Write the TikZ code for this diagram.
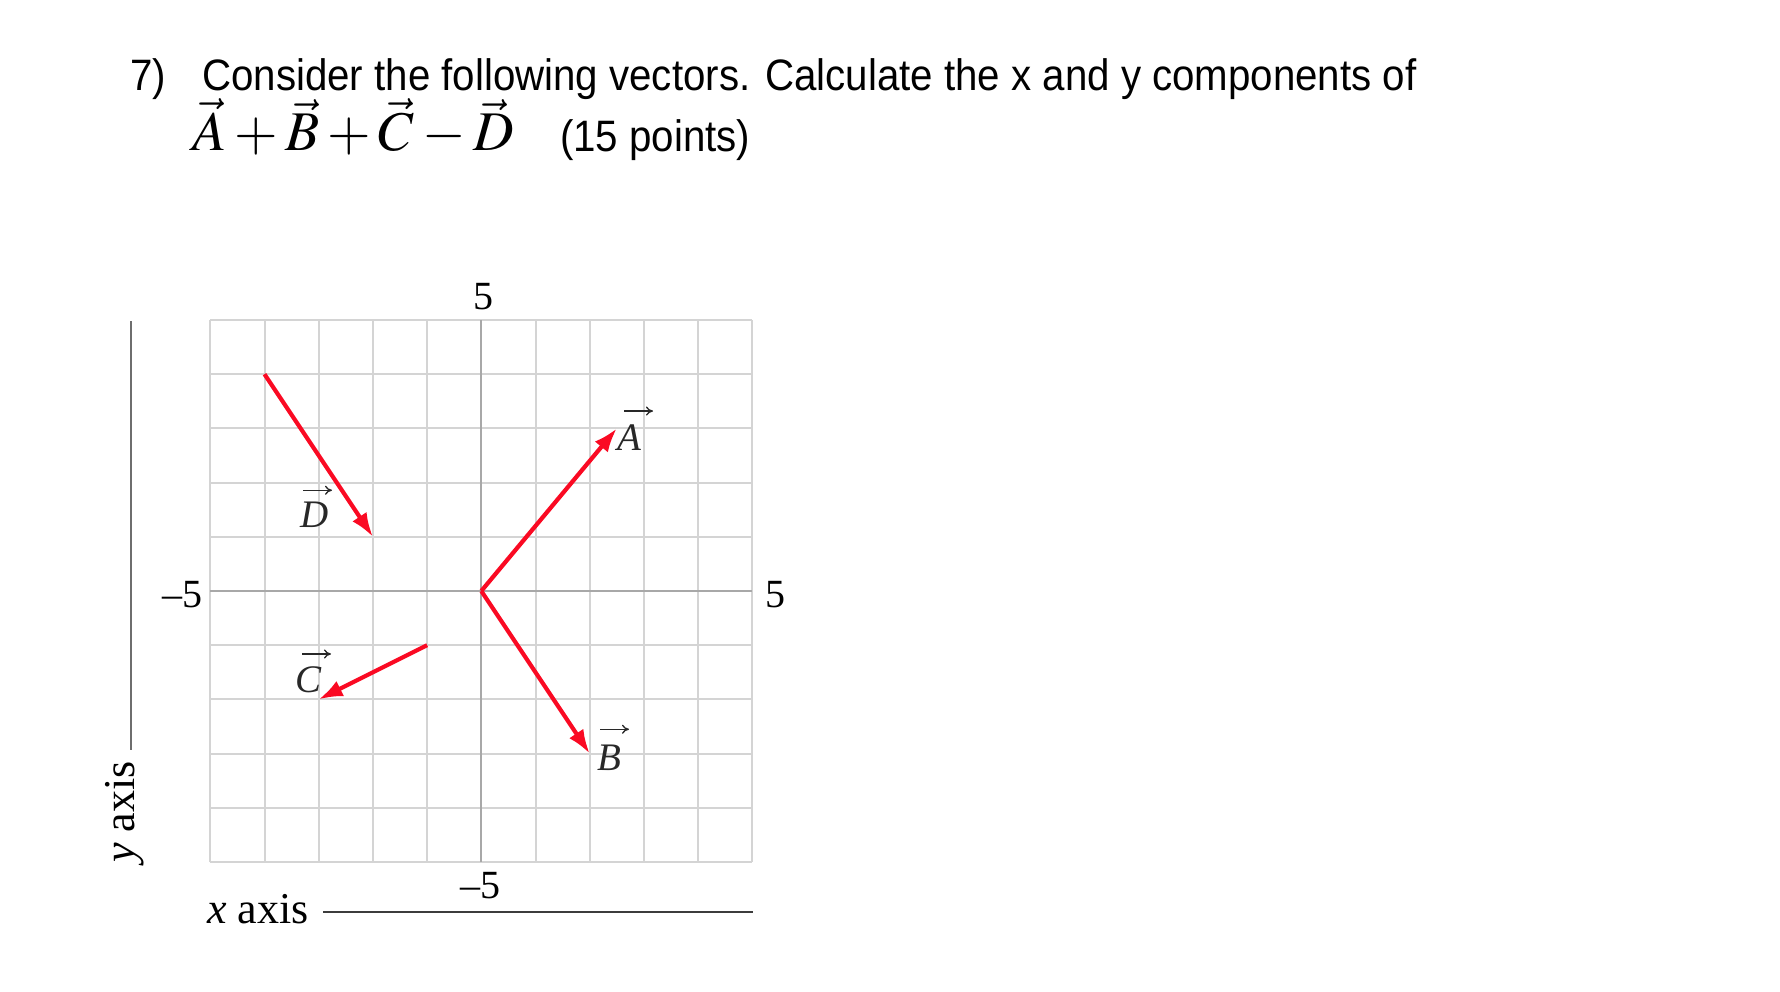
\documentclass[tikz,border=0pt]{standalone}
\usepackage{mathptmx}
\usepackage[no-math]{fontspec}
\setmainfont{Liberation Serif}
\newfontfamily\hlv[FakeStretch=0.915]{Liberation Sans}
\usetikzlibrary{arrows.meta}
\definecolor{vecred}{RGB}{250,10,35}
\definecolor{gridgray}{RGB}{212,212,212}
\definecolor{axgray}{RGB}{168,168,168}
\definecolor{linegray}{RGB}{60,60,60}
\definecolor{ylinegray}{RGB}{110,110,110}
\definecolor{lblgray}{RGB}{40,40,40}
\begin{document}
\begin{tikzpicture}[x=1pt,y=-1pt,
  titletxt/.style={font=\hlv\fontsize{44}{50}\selectfont, inner sep=0pt},
  formula/.style={font=\fontsize{56}{60}\selectfont, inner sep=0pt},
  plotlbl/.style={font=\fontsize{40}{44}\selectfont, inner sep=0pt},
  captxt/.style={font=\fontsize{44}{48}\selectfont, inner sep=0pt},
  veclbl/.style={font=\itshape\fontsize{39}{44}\selectfont, inner sep=0pt, text=lblgray},
  lblarrow/.style={draw=lblgray, line width=1.3pt, -{To[length=7pt,width=9pt]}},
  gridln/.style={draw=gridgray, line width=2pt},
  axisln/.style={draw=axgray, line width=2pt},
  xline/.style={draw=linegray, line width=2.6pt},
  yline/.style={draw=ylinegray, line width=2.4pt},
  vecarrow/.style={draw=vecred, line width=4.2pt, -{Latex[length=24pt,width=17pt]}},
]
\useasboundingbox[fill=white] (0,0) rectangle (1780,992);

% title
\node[titletxt, anchor=base west] (num) at (130,91) {7)};
\node[titletxt, anchor=base west] (q1) at (202,91) {Consider the following vectors. Calculate the x and y components of};
\node[formula, anchor=base west] (expr) at (192,151) {$\vec{A}+\vec{B}+\vec{C}-\vec{D}$};
\node[titletxt, anchor=base west] (pts) at (560,152) {(15 points)};

% grid
\begin{scope}[shift={(481.3,591)}, x=54.2pt, y=54.2pt]
  \draw[gridln, step=1] (-5,-5) grid (5,5);
  \draw[axisln] (-5,0) -- (5,0);
  \draw[axisln] (0,-5) -- (0,5);
  \coordinate (O) at (0,0);
  \coordinate (Atip) at (2.5,3);
  \coordinate (Btip) at (2,-3);
  \coordinate (Cstart) at (-1,-1);
  \coordinate (Ctip) at (-3,-2);
  \coordinate (Dstart) at (-4,4);
  \coordinate (Dtip) at (-2,1);
  \draw[vecarrow] (O) -- (Atip);
  \draw[vecarrow] (O) -- (Btip);
  \draw[vecarrow] (Cstart) -- (Ctip);
  \draw[vecarrow] (Dstart) -- (Dtip);
\end{scope}

% tick labels
\node[plotlbl, anchor=base] (top5) at (483,309) {5};
\node[plotlbl, anchor=base east] (left5) at (203,607) {--5};
\node[plotlbl, anchor=base west] (right5) at (765,607) {5};
\node[plotlbl, anchor=base] (bot5) at (480,898) {--5};

% vector labels
\node[veclbl, anchor=base west] (Albl) at (617,450) {A};
\node[veclbl, anchor=base west] (Blbl) at (597,770) {B};
\node[veclbl, anchor=base west] (Clbl) at (295,692) {C};
\node[veclbl, anchor=base west] (Dlbl) at (300,527) {D};
\draw[lblarrow] ([xshift=7pt,yshift=13pt]Albl.north west) -- ++(29,0);
\draw[lblarrow] ([xshift=3pt,yshift=15pt]Blbl.north west) -- ++(29,0);
\draw[lblarrow] ([xshift=7pt,yshift=12pt]Clbl.north west) -- ++(29,0);
\draw[lblarrow] ([xshift=3pt,yshift=11pt]Dlbl.north west) -- ++(29,0);

% axis captions
\node[captxt, anchor=base west] (xcap) at (207,923) {\textit{x} axis};
\coordinate (xl1) at (323,912);
\coordinate (xl2) at (753,912);
\draw[xline] (xl1) -- (xl2);
\node[captxt, anchor=mid, rotate=90] (ycap) at (132,812) {\textit{y} axis};
\coordinate (yl1) at (131,321);
\coordinate (yl2) at (131,750);
\draw[yline] (yl1) -- (yl2);
\end{tikzpicture}
\end{document}
